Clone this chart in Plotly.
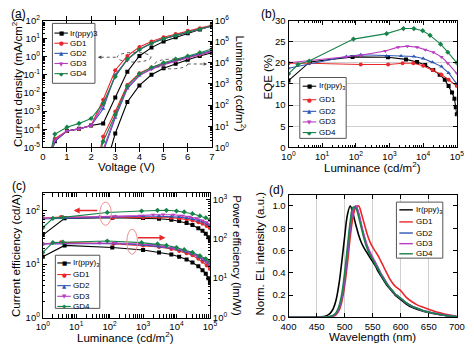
import plotly.graph_objects as go

W, H = 474, 352
def fx(p): return p / W
def fy(p): return 1 - p / H

FONT = "Arial, 'Liberation Sans', sans-serif"

names_plain = ["Ir(ppy)3", "GD1", "GD2", "GD3", "GD4"]
names_sub = ["Ir(ppy)<sub>3</sub>", "GD1", "GD2", "GD3", "GD4"]
colors = ["#000000", "#e8282b", "#2e56b5", "#b83cc0", "#16834a"]
symbols = ["square", "circle", "triangle-up", "triangle-down", "diamond"]
glyphs = ["\u25A0", "\u25CF", "\u25B2", "\u25BC", "\u25C6"]

# ---------------- panel (a): J-V-L ----------------
volt_j = [0.0, 0.5, 1.0, 1.5, 2.0, 2.5, 3.0, 3.5, 4.0, 4.5, 5.0, 5.5, 6.0, 6.5, 7.0]
jd_ir  = [1e-7, 2.2e-5, 8e-5, 1.05e-4, 1.6e-4, 2.1e-4, 5.6e-3, 0.15, 1.1, 3.2, 7, 12, 20, 32, 50]
jd_gd1 = [1e-7, 3.0e-5, 8e-5, 1.05e-4, 1.6e-4, 4.2e-3, 0.18, 1.1, 3.5, 7, 12, 18, 27, 38, 55]
jd_gd2 = [1e-7, 2.2e-5, 8e-5, 1.05e-4, 1.6e-4, 1.35e-3, 0.10, 0.7, 2.5, 5.5, 10, 15, 23, 33, 50]
jd_gd3 = [1e-7, 2.5e-5, 8e-5, 1.05e-4, 1.6e-4, 2.2e-3, 0.09, 0.7, 2.5, 5.5, 10, 15, 23, 33, 50]
jd_gd4 = [1e-7, 5.4e-5, 1.3e-4, 2.1e-4, 3.9e-4, 2.6e-3, 0.08, 0.75, 2.5, 5.5, 10, 15, 23, 33, 52]
jd_all = [jd_ir, jd_gd1, jd_gd2, jd_gd3, jd_gd4]

volt_l = [2.0, 2.5, 3.0, 3.5, 4.0, 4.5, 5.0, 5.5, 6.0, 6.5, 7.0]
lum_ir  = [0.001, 0.05, 4.5, 140, 850, 2700, 5500, 9000, 14000, 21000, 30000]
lum_gd1 = [0.01, 3.3, 50, 900, 3200, 6000, 9000, 13000, 18000, 25000, 34000]
lum_gd2 = [0.005, 0.6, 25, 600, 2500, 5200, 8500, 13000, 19000, 27000, 38000]
lum_gd3 = [0.005, 0.8, 30, 650, 2600, 5000, 8000, 12000, 17000, 24000, 33000]
lum_gd4 = [0.01, 1.9, 35, 800, 3000, 6000, 10000, 15000, 21000, 30000, 45000]
lum_all = [lum_ir, lum_gd1, lum_gd2, lum_gd3, lum_gd4]

# ---------------- panel (b): EQE ----------------
lb_ir  = [1, 4.3, 80, 900, 3100, 6600, 11500, 20000, 31000, 44000, 57000, 72000, 85000, 93000, 100000]
eqe_ir = [15.8, 20.2, 21.4, 21.3, 20.8, 20.2, 19.5, 18.3, 17.2, 16.0, 14.5, 13.0, 11.5, 9.5, 7.8]
lb_gd1  = [1, 4.1, 140, 910, 2450, 5100, 10000, 19000, 35000, 57000, 100000]
eqe_gd1 = [19.9, 19.9, 19.6, 19.6, 19.9, 19.9, 19.3, 18.3, 17.2, 16.0, 14.5]
lb_gd2  = [1, 52, 140, 820, 2200, 5300, 10000, 19000, 35000, 57000, 100000]
eqe_gd2 = [18.7, 21.5, 21.9, 21.6, 21.6, 21.5, 21.0, 20.1, 19.1, 17.6, 15.0]
lb_gd3  = [1, 52, 140, 750, 1800, 3400, 6600, 11500, 20000, 35000, 54000, 100000]
eqe_gd3 = [20.0, 21.4, 21.8, 22.8, 23.7, 23.9, 23.7, 23.1, 22.5, 21.4, 19.9, 17.5]
lb_gd4  = [1, 1.9, 4.1, 85, 820, 2600, 5300, 9700, 16000, 33000, 54000, 100000]
eqe_gd4 = [17.4, 19.6, 20.4, 25.6, 26.9, 28.1, 28.1, 27.6, 26.5, 24.4, 22.5, 20.0]
lb_all = [lb_ir, lb_gd1, lb_gd2, lb_gd3, lb_gd4]
eqe_all = [eqe_ir, eqe_gd1, eqe_gd2, eqe_gd3, eqe_gd4]

# ---------------- panel (c): CE / PE ----------------
lc_ir  = [1, 4.5, 120, 1000, 3000, 7000, 12000, 20000, 30000, 45000, 60000, 75000, 90000, 100000]
ce_ir  = [35, 72, 74, 73, 71, 68, 64, 59, 54, 47, 42, 37, 32, 28]
pe_ir  = [35, 68, 60, 52, 45, 40, 35, 30, 25, 20, 16, 13, 10, 8]
lc_gd1 = [1, 3.5, 130, 1000, 3000, 7000, 12000, 20000, 30000, 45000, 60000, 80000, 100000]
ce_gd1 = [73, 76, 75, 75, 76, 74, 72, 69, 66, 61, 57, 52, 47]
pe_gd1 = [74, 82, 75, 68, 62, 55, 49, 43, 38, 31, 26, 21, 17]
lc_gd2 = [1, 50, 150, 1000, 3000, 7000, 12000, 20000, 30000, 45000, 60000, 80000, 100000]
ce_gd2 = [70, 76, 78, 79, 79, 78, 76, 73, 70, 66, 62, 57, 52]
pe_gd2 = [74, 78, 76, 70, 64, 58, 52, 46, 41, 35, 30, 25, 21]
lc_gd3 = [1, 50, 150, 800, 2000, 4000, 8000, 15000, 25000, 40000, 60000, 80000, 100000]
ce_gd3 = [73, 77, 78, 81, 84, 85, 84, 81, 77, 72, 66, 61, 55]
pe_gd3 = [75, 78, 78, 74, 70, 64, 58, 51, 45, 38, 32, 27, 22]
lc_gd4 = [1, 2, 4, 85, 900, 2700, 5000, 10000, 17000, 30000, 50000, 75000, 100000]
ce_gd4 = [48, 72, 75, 93, 99, 102, 102, 99, 95, 88, 80, 74, 68]
pe_gd4 = [45, 80, 82, 88, 80, 74, 68, 60, 53, 45, 37, 31, 26]
lc_all = [lc_ir, lc_gd1, lc_gd2, lc_gd3, lc_gd4]
ce_all = [ce_ir, ce_gd1, ce_gd2, ce_gd3, ce_gd4]
pe_all = [pe_ir, pe_gd1, pe_gd2, pe_gd3, pe_gd4]

# ---------------- panel (d): EL spectra ----------------
wl = [400, 450, 460, 470, 475, 480, 485, 490, 495, 500, 505, 510, 515, 520, 525, 530, 535,
      540, 545, 550, 555, 560, 565, 570, 575, 580, 585, 590, 595, 600, 610, 620, 630, 640,
      650, 660, 670, 680, 690, 700]
el_ir  = [0, 0.002, 0.005, 0.02, 0.04, 0.08, 0.16, 0.30, 0.50, 0.72, 0.92, 1.0, 0.93, 0.83,
          0.74, 0.67, 0.62, 0.58, 0.54, 0.50, 0.46, 0.41, 0.37, 0.33, 0.29, 0.26, 0.23, 0.20,
          0.18, 0.16, 0.12, 0.09, 0.07, 0.055, 0.043, 0.032, 0.023, 0.016, 0.010, 0.006]
el_gd1 = [0, 0.0, 0.001, 0.003, 0.006, 0.01, 0.025, 0.06, 0.14, 0.28, 0.48, 0.72, 0.90, 0.99,
          1.0, 0.93, 0.84, 0.75, 0.68, 0.63, 0.59, 0.55, 0.50, 0.45, 0.40, 0.35, 0.31, 0.28,
          0.26, 0.24, 0.18, 0.14, 0.11, 0.09, 0.072, 0.055, 0.04, 0.028, 0.018, 0.01]
el_gd2 = [0, 0.0, 0.001, 0.004, 0.008, 0.015, 0.035, 0.08, 0.17, 0.34, 0.56, 0.80, 0.96, 1.0,
          0.93, 0.82, 0.72, 0.64, 0.58, 0.53, 0.49, 0.44, 0.39, 0.35, 0.31, 0.27, 0.24, 0.21,
          0.19, 0.17, 0.13, 0.10, 0.08, 0.06, 0.048, 0.036, 0.026, 0.018, 0.012, 0.007]
el_gd3 = [0, 0.0, 0.001, 0.004, 0.008, 0.016, 0.037, 0.085, 0.18, 0.35, 0.57, 0.81, 0.96, 1.0,
          0.94, 0.83, 0.73, 0.65, 0.59, 0.54, 0.49, 0.44, 0.39, 0.35, 0.31, 0.27, 0.24, 0.21,
          0.19, 0.17, 0.13, 0.10, 0.08, 0.06, 0.048, 0.036, 0.026, 0.018, 0.012, 0.007]
el_gd4 = [0, 0.0, 0.002, 0.005, 0.01, 0.02, 0.045, 0.10, 0.21, 0.40, 0.63, 0.86, 0.99, 0.98,
          0.90, 0.80, 0.70, 0.62, 0.56, 0.52, 0.47, 0.43, 0.38, 0.34, 0.30, 0.27, 0.24, 0.21,
          0.19, 0.17, 0.13, 0.10, 0.08, 0.06, 0.047, 0.035, 0.025, 0.017, 0.011, 0.006]
el_all = [el_ir, el_gd1, el_gd2, el_gd3, el_gd4]

fig = go.Figure()

def add(x, y, xa, ya, i, markers=True, width=1.1, spline=False):
    fig.add_trace(go.Scatter(
        x=x, y=y, xaxis=xa, yaxis=ya,
        mode="lines+markers" if markers else "lines",
        line=dict(color=colors[i], width=width, shape="spline" if spline else "linear"),
        marker=dict(symbol=symbols[i], size=4, color=colors[i], line=dict(width=0)),
        name=names_plain[i], showlegend=False, hoverinfo="skip"))

for i in range(5):
    add(volt_j, jd_all[i], "x", "y", i)
    add(volt_l, lum_all[i], "x", "y2", i)
    add(lb_all[i], eqe_all[i], "x2", "y3", i)
    add(lc_all[i], ce_all[i], "x3", "y4", i)
    add(lc_all[i], pe_all[i], "x3", "y5", i)
    add(wl, el_all[i], "x4", "y6", i, markers=False, width=1.6, spline=True)

tickfont = dict(family=FONT, size=9.5, color="black")
base = dict(showline=True, linecolor="black", linewidth=1, ticks="inside", ticklen=4,
            tickcolor="black", tickfont=tickfont, showgrid=False, zeroline=False)

def logax(lo, hi, **kw):
    d = dict(base)
    d.update(type="log", range=[lo, hi],
             tickmode="array",
             tickvals=[10 ** k for k in range(lo, int(hi) + 1)],
             ticktext=["10<sup>%d</sup>" % k for k in range(lo, int(hi) + 1)],
             minor=dict(tickmode="array",
                        tickvals=[m * 10 ** k for k in range(lo, int(hi) + 1) for m in range(2, 10)],
                        ticks="inside", ticklen=2, tickcolor="black"))
    d.update(kw)
    return d

def linax(lo, hi, dt, **kw):
    d = dict(base)
    d.update(range=[lo, hi], dtick=dt, tick0=0)
    d.update(kw)
    return d

xa_a = [fx(36), fx(211)]
ya_a = [fy(145.3), fy(14)]
xa_b = [fx(290.3), fx(464.5)]
ya_b = [fy(145.3), fy(14)]
xa_c = [fx(36), fx(209)]
ya_c = [fy(321.5), fy(192.7)]
xa_d = [fx(290.3), fx(464.5)]
ya_d = [fy(321.3), fy(194.5)]

fig.update_layout(
    width=W, height=H, margin=dict(l=0, r=0, t=0, b=0),
    paper_bgcolor="white", plot_bgcolor="white", showlegend=False,
    font=dict(family=FONT, color="black"),
    xaxis=linax(0, 7, 1, domain=xa_a, anchor="y", mirror="allticks"),
    yaxis=logax(-5, 2, domain=ya_a, anchor="x"),
    yaxis2=logax(0, 6, overlaying="y", side="right", anchor="x"),
    xaxis2=logax(0, 5, domain=xa_b, anchor="y3", mirror="allticks"),
    yaxis3=linax(0, 30, 5, domain=ya_b, anchor="x2", mirror="allticks",
                 showgrid=True, gridcolor="#d0d0d0", gridwidth=1),
    xaxis3=logax(0, 5, domain=xa_c, anchor="y4", mirror="allticks"),
    yaxis4=logax(0, 2.33, domain=ya_c, anchor="x3"),
    yaxis5=logax(0, 3.16, overlaying="y4", side="right", anchor="x3"),
    xaxis4=linax(400, 700, 50, domain=xa_d, anchor="y6", mirror="allticks",
                 showgrid=True, gridcolor="#d0d0d0", gridwidth=1),
    yaxis6=linax(0, 1.1, 0.2, domain=ya_d, anchor="x4", mirror="allticks", tickformat=".1f"),
)

ann = []
shapes = []
def text(x, y, s, size=11.5, angle=0, xanchor="center", color="black"):
    ann.append(dict(x=fx(x), y=fy(y), xref="paper", yref="paper", text=s, showarrow=False,
                    textangle=angle, xanchor=xanchor, yanchor="middle",
                    font=dict(family=FONT, size=size, color=color)))

def arrow(xh, yh, dx, color, width, size=1.0):
    # head at (xh, yh); tail offset dx pixels horizontally
    ann.append(dict(x=fx(xh), y=fy(yh), xref="paper", yref="paper", ax=dx, ay=0,
                    axref="pixel", ayref="pixel", text="", showarrow=True, arrowhead=2,
                    arrowsize=size, arrowwidth=width, arrowcolor=color))

# panel labels
text(1, 7, "(a)", 12, xanchor="left")
text(260, 7, "(b)", 12, xanchor="left")
text(2, 185, "(c)", 12, xanchor="left")
text(268, 189, "(d)", 12, xanchor="left")

# axis titles
text(10, 78, "Current density (mA/cm<sup>2</sup>)", 11.5, -90)
text(241, 80, "Luminance (cd/m<sup>2</sup>)", 11.5, 90)
text(123, 166, "Voltage (V)", 11.5)
text(269, 72, "EQE (%)", 11.5, -90)
text(377, 166, "Luminance (cd/m<sup>2</sup>)", 11.5)
text(9, 257, "Current efficiency (cd/A)", 11.5, -90)
text(237, 257, "Power efficiency (lm/W)", 11.5, 90)
text(122, 342, "Luminance (cd/m<sup>2</sup>)", 11.5)
text(261, 255, "Norm. EL intensity (a.u.)", 11.5, -90)
text(377, 342, "Wavelength (nm)", 11.5)

# manual legends
def legend(box, rows, labels, markers=True, line_x=(0, 0), text_x=0, fsize=8):
    x0, y0, x1, y1 = box
    shapes.append(dict(type="rect", xref="paper", yref="paper", x0=fx(x0), x1=fx(x1),
                       y0=fy(y0), y1=fy(y1), line=dict(color="#555555", width=1),
                       fillcolor="white", layer="above"))
    for i, ry in enumerate(rows):
        shapes.append(dict(type="line", xref="paper", yref="paper", x0=fx(line_x[0]), x1=fx(line_x[1]),
                           y0=fy(ry), y1=fy(ry), line=dict(color=colors[i], width=1.4 if not markers else 1.1),
                           layer="above"))
        if markers:
            ann.append(dict(x=fx((line_x[0] + line_x[1]) / 2), y=fy(ry), xref="paper", yref="paper",
                            text=glyphs[i], showarrow=False, xanchor="center", yanchor="middle",
                            font=dict(family="DejaVu Sans", size=5.5, color=colors[i])))
        text(text_x, ry, labels[i], fsize, xanchor="left")

legend((46, 17, 90, 79), [27, 37.5, 48, 58.5, 69], names_plain, True, (48, 62), 62.5)
legend((302, 73, 350, 136), [82, 96, 108, 119, 130], names_sub, True, (305, 319), 320)
legend((49, 257, 95, 312), [265, 277, 288.5, 299.5, 310], names_sub, True, (51, 65), 65.5)
legend((402, 202, 450, 260), [210, 222.5, 234, 245, 255.5], names_sub, False, (405, 419), 420)

# panel (a) dotted ellipses & arrows
gray = "#444444"
shapes.append(dict(type="circle", xref="paper", yref="paper", x0=fx(113), x1=fx(148),
                   y0=fy(47), y1=fy(57), line=dict(color=gray, width=0.9, dash="dot")))
shapes.append(dict(type="line", xref="paper", yref="paper", x0=fx(96), x1=fx(113),
                   y0=fy(52), y1=fy(52), line=dict(color=gray, width=0.9, dash="dot")))
arrow(93, 52, 4, gray, 1, 0.7)
shapes.append(dict(type="circle", xref="paper", yref="paper", x0=fx(152), x1=fx(186),
                   y0=fy(54), y1=fy(64), line=dict(color=gray, width=0.9, dash="dot")))
shapes.append(dict(type="line", xref="paper", yref="paper", x0=fx(186), x1=fx(203),
                   y0=fy(59), y1=fy(59), line=dict(color=gray, width=0.9, dash="dot")))
arrow(206, 59, -4, gray, 1, 0.7)

# panel (c) red ellipses & arrows
red = "#e8282b"
shapes.append(dict(type="circle", xref="paper", yref="paper", x0=fx(95), x1=fx(107),
                   y0=fy(202), y1=fy(226), line=dict(color="#f09090", width=1)))
arrow(68, 210.7, 25, red, 1.5, 0.8)
shapes.append(dict(type="circle", xref="paper", yref="paper", x0=fx(123), x1=fx(134),
                   y0=fy(230), y1=fy(256), line=dict(color="#f09090", width=1)))
arrow(163, 239, -29, red, 1.5, 0.8)

fig.update_layout(annotations=ann, shapes=shapes)
fig.write_html("out.html")
